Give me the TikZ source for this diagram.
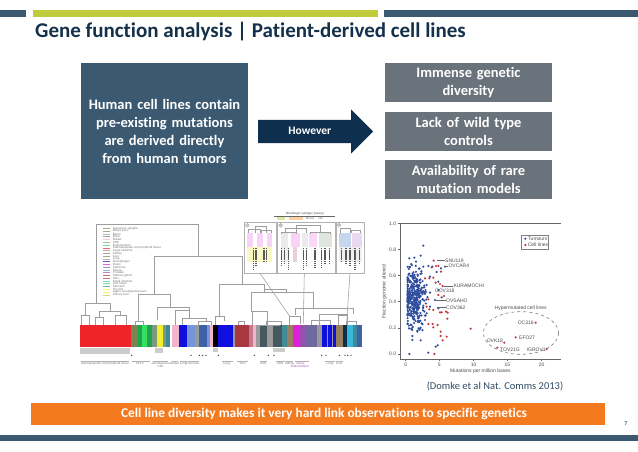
\documentclass[tikz,border=0pt]{standalone}
\usepackage{fontspec}
\setmainfont{Liberation Sans}
\newfontfamily\slidefont[Ligatures=NoCommon]{Carlito}
\usetikzlibrary{shapes.arrows}

\definecolor{slateblue}{HTML}{3B5A72}
\definecolor{limebar}{HTML}{BFCB3B}
\definecolor{greybox}{HTML}{6A737C}
\definecolor{navyarrow}{HTML}{0F2F4F}
\definecolor{orangebar}{HTML}{F47A20}
\definecolor{titleink}{HTML}{14304A}
\definecolor{citeink}{HTML}{2F4A66}
\definecolor{heatred}{HTML}{EE2428}
\definecolor{heatolive}{HTML}{7A8650}
\definecolor{heatgreen}{HTML}{1FA34F}
\definecolor{heatlime}{HTML}{35E060}
\definecolor{heatsage}{HTML}{7C9A80}
\definecolor{heatyellow}{HTML}{F2EE30}
\definecolor{heatteal}{HTML}{3F8C96}
\definecolor{heatpink}{HTML}{F4B4CC}
\definecolor{heatblue}{HTML}{0F0FE0}
\definecolor{heatsky}{HTML}{7296D8}
\definecolor{heatsteel}{HTML}{3E62A8}
\definecolor{heatbrown}{HTML}{A8383F}
\definecolor{heatrose}{HTML}{C07A8C}
\definecolor{heatgrey}{HTML}{9A9A9A}
\definecolor{heatslate}{HTML}{44595F}
\definecolor{heattan}{HTML}{96805E}
\definecolor{heatmagenta}{HTML}{E020D8}
\definecolor{heatpurple}{HTML}{9A4FB0}
\definecolor{heatdusk}{HTML}{6E6AA0}
\definecolor{heatcyan}{HTML}{38B8DC}
\definecolor{dotblue}{HTML}{2E4C9C}
\definecolor{dotred}{HTML}{C8343C}

\tikzset{
  topbar/.style={fill=#1, draw=none},
  greyitem/.style={fill=greybox, text=white, minimum width=167pt, minimum height=38.5pt, inner sep=0pt, text width=160pt, align=center, font={\slidefont\bfseries\fontsize{14.5}{18}\selectfont}},
  denline/.style={draw=black!38, line width=.55pt},
  inset/.style={draw=black!30, line width=.9pt},
  tinytext/.style={text=black!55, inner sep=0pt, font=\fontsize{3}{3.6}\selectfont},
  plottext/.style={text=black!70, inner sep=0pt, font=\fontsize{5}{6}\selectfont},
  leader/.style={draw=black!60, line width=.35pt}
}

\begin{document}
\begin{tikzpicture}[x=1pt, y=-1pt]
\useasboundingbox (0,0) rectangle (638,451);

% slide frame
\fill[topbar=slateblue] (0,10) rectangle (26,17);
\fill[topbar=limebar] (33,10) rectangle (378,17);
\fill[topbar=slateblue] (384,10) rectangle (638,17);
\fill[topbar=slateblue] (0,435) rectangle (638,441);

\node [anchor=west, inner sep=0pt, text=titleink, font={\slidefont\bfseries\fontsize{21}{25}\selectfont}] (title) at (35,32) {Gene function analysis | Patient-derived cell lines};

% top row
\node [fill=slateblue, text=white, minimum width=167pt, minimum height=136pt, inner sep=0pt, text width=160pt, align=center, font={\slidefont\bfseries\fontsize{14.5}{18}\selectfont}] (human) at (164.5,131) {Human cell lines contain\\pre-existing mutations\\are derived directly\\from human tumors};
\node [single arrow, anchor=tail, fill=navyarrow, text=white, minimum height=115pt, text height=8pt, text depth=3pt, inner xsep=0pt, inner ysep=6pt, single arrow head extend=10.5pt, single arrow tip angle=90, single arrow head indent=0pt, font={\slidefont\bfseries\fontsize{11.5}{13}\selectfont}] (however) at (258,131.5) {However};
\node [greyitem] (immense) at (468.5,82.5) {Immense genetic\\diversity};
\node [greyitem] (wildtype) at (468.5,131.5) {Lack of wild type\\controls};
\node [greyitem] (rare) at (468.5,179.5) {Availability of rare\\mutation models};

% dendrogram, in crop units
\begin{scope}[shift={(40,200)}, x=.3333pt, y=-.3333pt]
\foreach \xa/\xb/\col in {120/272/heatred, 272/295/heatolive, 295/305/heatgreen, 305/320/heatlime, 320/335/heatgreen, 335/350/heatsage, 350/368/heatyellow, 368/378/heatsage, 378/390/heatteal, 390/395/white, 395/418/heatpink, 418/440/heatblue, 440/445/heatgrey, 445/465/heatsky, 465/478/heatgrey, 478/500/heatsteel, 500/510/heatsky, 510/520/heatpink, 520/535/black, 535/580/heatblue, 580/585/heatgrey, 585/628/heatbrown, 628/640/heatrose, 640/648/heatpink, 648/660/heatgrey, 660/680/heatslate, 680/700/heatgrey, 700/725/heatslate, 725/740/heatteal, 740/758/heattan, 758/780/heatmagenta, 780/797/heatpurple, 797/830/heatdusk, 830/845/heatgrey, 845/860/heatblue, 860/865/heatgrey, 865/875/heatblue, 875/878/heatgrey, 878/888/heatblue, 888/910/heattan, 910/922/navyarrow, 922/940/heatcyan, 940/952/heatteal, 952/965/heatsteel}
  \fill[fill=\col] (\xa,375) rectangle (\xb,440);
\fill[black!20] (120,445) rectangle (270,462);
\fill[black!20] (345,445) rectangle (368,458);
\fill[black!20] (520,445) rectangle (535,456);
\fill[black!20] (700,445) rectangle (735,456);

% joins: left x / right x / top / left foot / right foot
\foreach \xa/\xb/\ytop/\ya/\yb in {135/210/310/347/335, 125/147/347/375/375, 178/240/335/352/345, 165/190/352/375/375, 225/258/345/375/375, 295/390/283/365/322, 352/447/322/360/355, 405/447/332/375/355, 428/500/355/375/365, 475/515/365/375/375, 285/310/365/375/375, 525/553/350/375/362, 539/672/253/350/268, 672/740/268/278/278, 633/820/278/335/325, 638/683/335/375/375, 595/612/365/375/375, 655/720/375/375/375, 680/725/365/375/375, 765/940/325/345/343, 748/782/348/375/372, 838/922/343/375/345, 815/870/362/375/375, 895/922/345/375/375, 918/950/365/375/375}
  \draw[denline] (\xa,\ya) -- (\xa,\ytop) -- (\xb,\ytop) -- (\xb,\yb);
\draw[denline] (170,310) -- (170,72) -- (475,72) -- (475,170);
\draw[denline] (343,283) -- (343,170) -- (607,170) -- (607,253);

% tissue legend
\foreach \lab [count=\i] in {Autonomic ganglia, Biliary tract, Blood, Bone, Breast, CNS, Endometrium, Haematopoietic and lymphoid tissue, Large intestine, Kidney, Liver, Lung, Oesophagus, Ovary, Pancreas, Pleura, Prostate, Salivary gland, Skin, Small intestine, Soft tissue, Stomach, Thyroid, Upper aerodigestive tract, Urinary tract}
  \node [tinytext, anchor=west] (leg\i) at (218,{77+8.3*\i}) {\lab};
\foreach \col [count=\i] in {heatolive, heatolive, heatgrey, heatolive, heatpink, heatsage, heatlime, heatred, heatrose, heattan, heatolive, heatgrey, heatblue, heatmagenta, heatdusk, heatsky, heatpurple, heatbrown, heatbrown, heatcyan, heatlime, heatteal, heatyellow, heatyellow, limebar}
  \draw[\col!70, line width=.6pt] (190,{77+8.3*\i}) -- (210,{77+8.3*\i});

% zoomed subtrees
\node [tinytext, font={\bfseries\fontsize{3}{3.6}\selectfont}] (subtype) at (795,42) {Histologic subtype (ovary)};
\draw[leader] (703,48) -- (885,48);
\fill[limebar!50] (712,52) rectangle (735,60);
\fill[orange!35] (748,52) rectangle (790,60);
\node [tinytext] (mixed) at (810,56) {Mixed};
\node [tinytext] (nana) at (842,56) {NA};
\draw[inset, fill=white] (612,68) rectangle (708,220);
\draw[inset, fill=white] (713,68) rectangle (885,220);
\draw[inset, fill=white] (890,68) rectangle (972,220);
\foreach \xa/\xb/\col in {622/640/heatmagenta!20, 652/668/heatmagenta!20, 680/697/heatmagenta!20, 722/745/black!8, 752/780/heatmagenta!20, 785/803/black!8, 808/832/heatmagenta!18, 838/875/heatsage!25, 897/932/heatsky!40, 935/965/heatpurple!22}
  \fill[fill=\col] (\xa,100) rectangle (\xb,142);
\foreach \xa/\xb/\col in {622/697/heatyellow!28, 722/745/black!6, 758/772/heatrose!35, 897/965/black!6}
  \fill[fill=\col] (\xa,142) rectangle (\xb,185);
\foreach \x/\ybot in {640/208, 648/195, 672/185, 680/185, 725/195, 733/190, 745/208, 790/210, 800/195, 825/205, 845/205, 855/190, 868/190, 905/185, 918/190, 930/195, 945/210, 958/190}
  \draw[black!65, line width=1.6pt, dash pattern=on 1.4pt off .5pt] (\x,143) -- (\x,\ybot);
\foreach \xa/\xb/\ytop in {625/660/88, 665/695/92, 645/680/78, 735/800/85, 725/770/98, 810/870/98, 770/840/75, 900/930/85, 935/962/92}
  \draw[denline, line width=.4pt] (\xa,100) -- (\xa,\ytop) -- (\xb,\ytop) -- (\xb,100);
\foreach \x/\lab in {622/1, 722/2, 897/3}
  \node [circle, draw=black!50, line width=.3pt, inner sep=.4pt, text=black!60, font=\fontsize{3}{3}\selectfont] (num\lab) at (\x,76) {\lab};
\draw[denline] (660,220) -- (750,350);
\draw[denline] (793,220) -- (790,370);
\draw[denline] (930,220) -- (920,370);

% sample marks and tissue names
\foreach \x in {275,453,478,488,498,535,643,685,702,845,858,898,915,923,933}
  \fill[black!80] (\x,466) circle (.7pt);
\foreach \x/\lab in {195/Haematopoietic and lymphoid tissue, 300/SCLC, 362/Aerodigestive, 404/Breast, 430/Lung, 458/Pancreas, 560/Lung, 608/Skin, 670/CNS, 720/CNS, 749/Kidney, 870/Lung, 898/Liver}
  \node [tinytext] (tis\x) at (\x,491) {\lab};
\node [tinytext] (tract) at (362,500) {tract};
\node [tinytext, text=heatpurple] (ovary) at (782,491) {Ovary};
\node [tinytext, text=heatpurple] (endo) at (780,500) {Endometrium};
\foreach \xa/\xb in {122/268, 275/330, 338/385, 395/415, 420/442, 445/478, 545/580, 592/625, 660/682, 708/735, 738/760, 765/808, 855/885, 888/908}
  \draw[black!30, line width=.3pt] (\xa,483) -- (\xb,483);
\end{scope}

% scatter plot, in crop units
\begin{scope}[shift={(370,210)}, x=.3333pt, y=-.3333pt]
\draw[black!60, line width=.6pt] (90,40) -- (572,40);
\draw[black!60, line width=.6pt] (90,40) -- (90,447) -- (572,447);
\foreach \y/\lab in {40/1.0, 118/0.8, 197/0.6, 275/0.4, 354/0.2, 432/0.0} {
  \draw[black!60, line width=.5pt] (84,\y) -- (90,\y);
  \node [plottext, anchor=east] (ytick\y) at (79,\y) {\lab};
}
\foreach \x/\lab in {107/0, 208/5, 311/10, 412/15, 515/20} {
  \draw[black!60, line width=.5pt] (\x,447) -- (\x,453);
  \node [plottext] (xtick\x) at (\x,463) {\lab};
}
\node [plottext, rotate=90] (ylab) at (43,245) {Fraction genome altered};
\node [plottext] (xlab) at (331,484) {Mutations per million bases};

\pgfmathsetseed{4213}
\foreach \i in {1,...,340} {
  \pgfmathsetmacro{\px}{max(113,134+15*(rand+rand+rand))}
  \pgfmathsetmacro{\py}{268+42*(rand+rand+rand)}
  \fill[dotblue] (\px,\py) circle (1.2pt);
}
\foreach \x/\y in {160/107, 118/145, 133/143, 152/137, 138/155, 160/170, 175/168, 187/170, 200/186, 213/175, 225/170, 180/200, 205/215, 205/240, 215/262, 195/270, 205/295, 180/290, 170/310, 165/330, 148/335, 117/355, 125/358, 142/362, 127/378, 127/390, 152/391, 118/432, 175/428, 197/410, 203/406, 180/248, 170/225}
  \fill[dotblue] (\x,\y) circle (1.2pt);
\foreach \x/\y in {191/152, 185/172, 198/168, 205/168, 213/185, 165/205, 178/205, 190/203, 197/218, 210/222, 218/228, 205/255, 222/258, 175/268, 170/290, 178/298, 190/300, 210/307, 215/307, 228/305, 233/308, 232/326, 175/342, 188/342, 190/352, 203/345, 212/365, 212/378, 218/391, 230/380, 193/432, 302/356, 497/338, 437/382, 403/398, 382/413, 530/417}
  \fill[dotred] (\x,\y) circle (1.2pt);

\node [plottext, anchor=west] (snu) at (225,151) {SNU119};
\node [plottext, anchor=west] (ovcar) at (235,168) {OVCAR4};
\node [plottext, anchor=west] (kura) at (250,228) {KURAMOCHI};
\node [plottext, anchor=west] (cov318) at (195,243) {COV318};
\node [plottext, anchor=west] (ovsaho) at (228,272) {OVSAHO};
\node [plottext, anchor=west] (cov362) at (228,292) {COV362};
\coordinate (snutail) at (200,151);
\coordinate (ovcartail) at (221,168);
\coordinate (kuratail) at (222,228);
\coordinate (ovsahotail) at (195,272);
\coordinate (cov362tail) at (200,292);
\draw[leader] (snutail) -- (snu.west);
\draw[leader] (ovcartail) -- (ovcar.west);
\draw[leader] (kuratail) -- (kura.west);
\draw[leader] (ovsahotail) -- (ovsaho.west);
\draw[leader] (cov362tail) -- (cov362.west);

\node [plottext] (hyper) at (452,296) {Hypermutated cell lines};
\draw[black!55, dashed, line width=.55pt] (453,369) ellipse [x radius=113, y radius=64];
\node [plottext, anchor=west] (oc) at (443,338) {OC316};
\node [plottext, anchor=west] (efo) at (447,382) {EFO27};
\node [plottext, anchor=west] (ovk) at (350,392) {OVK18};
\node [plottext, anchor=west] (tov) at (390,418) {TOV21G};
\node [plottext, anchor=west] (igr) at (470,418) {IGROV1};

\draw[black!50, line width=.5pt] (453,75) rectangle (535,118);
\fill[dotblue] (466,86) circle (1.2pt);
\fill[dotred] (466,105) circle (1.2pt);
\node [plottext, anchor=west] (tum) at (473,86) {Tumours};
\node [plottext, anchor=west] (lines) at (473,105) {Cell lines};
\end{scope}

\node [text=citeink, inner sep=0pt, font={\slidefont\fontsize{10.5}{12}\selectfont}] (domke) at (495,386) {(Domke et al Nat. Comms 2013)};

% bottom line
\node [fill=orangebar, text=white, minimum width=574pt, minimum height=22pt, inner sep=0pt, font={\slidefont\bfseries\fontsize{13.4}{16}\selectfont}] (diversity) at (318,414) {\hspace*{12pt}Cell line diversity makes it very hard link observations to specific genetics};
\node [text=titleink, inner sep=0pt, font={\slidefont\fontsize{6}{7}\selectfont}] (pagenum) at (626,424) {7};
\end{tikzpicture}
\end{document}
